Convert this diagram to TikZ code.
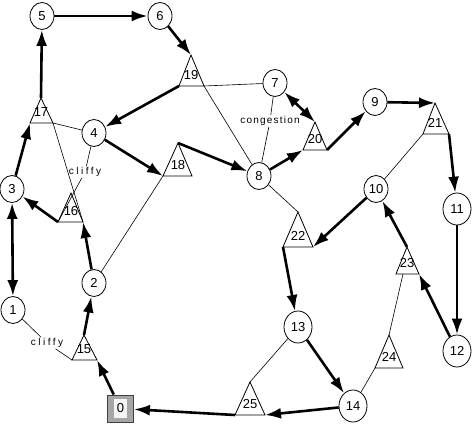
\documentclass[tikz,border=0pt]{standalone}
\usepackage{fontspec}
\setmainfont{Liberation Sans}
\usetikzlibrary{arrows.meta,shapes.geometric}
\newcommand{\mytri}[7]{%
  \coordinate (#1-a) at (#2,#3);
  \coordinate (#1-l) at (#5,#4);
  \coordinate (#1-r) at (#6,#4);
  \draw[tri] (#1-a) -- (#1-l) -- (#1-r) -- cycle;
  \node[trilab] (#1) at (#2,#4-11) {#7};
}
\begin{document}
\begin{tikzpicture}[x=1pt,y=-1pt,
  circ/.style={draw,ellipse,line width=0.8pt,inner sep=0pt,minimum width=24pt,minimum height=27pt,font=\fontsize{13}{15}\selectfont,fill=white},
  bigcirc/.style={circ,minimum width=28pt,minimum height=32pt},
  tri/.style={draw,line width=0.8pt,line join=miter},
  trilab/.style={inner sep=0pt,font=\fontsize{13}{15}\selectfont},
  arr/.style={line width=2.6pt,-{Latex[length=16pt,width=11pt]}},
  darr/.style={line width=2.6pt,{Latex[length=16pt,width=11pt]}-{Latex[length=16pt,width=11pt]}},
  thinline/.style={line width=0.6pt},
  lab/.style={inner sep=1pt,font=\fontsize{10}{12}\selectfont\addfontfeature{LetterSpace=25}},
  lab2/.style={inner sep=1pt,font=\fontsize{10}{12}\selectfont\addfontfeature{LetterSpace=12}}
]
\fill[white] (0,0) rectangle (474,428);
\useasboundingbox (0,0) rectangle (474,428);

% circle nodes
\node[circ] (n5) at (42,16) {5};
\node[circ] (n6) at (160,16) {6};
\node[circ] (n7) at (275,83) {7};
\node[circ] (n4) at (94,133) {4};
\node[circ] (n8) at (259,176) {8};
\node[circ] (n9) at (375,102) {9};
\node[circ] (n10) at (376,189) {10};
\node[bigcirc] (n11) at (457,209) {11};
\node[circ] (n3) at (12,189) {3};
\node[circ] (n2) at (94,283) {2};
\node[circ] (n1) at (13,310) {1};
\node[bigcirc] (n13) at (298,327) {13};
\node[bigcirc] (n14) at (353,406) {14};
\node[bigcirc] (n12) at (457,351) {12};

% box 0
\node[draw=black!75,line width=0.8pt,fill=black!35,minimum width=26pt,minimum height=27pt,inner sep=0pt] (n0) at (120.5,408.5) {};
\node[fill=black!4,minimum width=13pt,minimum height=19pt,inner sep=0pt,font=\fontsize{13}{15}\selectfont] (n0t) at (n0) {0};

% triangles
\mytri{t19}{191}{55}{86}{179}{204}{19}
\mytri{t17}{41}{98}{123}{30}{53}{17}
\mytri{t18}{178}{143}{176}{163}{192}{18}
\mytri{t16}{71}{193}{222}{58}{83}{16}
\mytri{t15}{84}{335}{360}{72}{97}{15}
\mytri{t20}{315}{122}{150}{303}{327}{20}
\mytri{t21}{435}{103}{134}{423}{449}{21}
\mytri{t22}{298}{212}{247}{283}{313}{22}
\mytri{t23}{407}{247}{274}{396}{419}{23}
\mytri{t24}{389}{335}{368}{375}{403}{24}
\mytri{t25}{250}{382}{415}{235}{265}{25}
\coordinate (t23-m) at (403,274);

% labels
\node[lab] (c1) at (47,343) {cliffy};
\node[lab] (c2) at (85,172) {cliffy};
\node[lab2] (cg) at (270,121) {congestion};

% thin lines
\draw[thinline] (t17-r) -- (n4);
\draw[thinline] (t17-r) -- (t16-r);
\draw[thinline] (n4) -- (c2) -- (t16-l);
\draw[thinline] (n1) -- (c1) -- (t15-l);
\draw[thinline] (t19-r) -- (n7);
\draw[thinline] (t19-r) -- (n8);
\draw[thinline] (n7) -- (cg) -- (n8);
\draw[thinline] (n8) -- (t22-a);
\draw[thinline] (t18-l) -- (n2);
\draw[thinline] (t21-l) -- (n10);
\draw[thinline] (t24-a) -- (t23-m);
\draw[thinline] (n14) -- (t24-l);
\draw[thinline] (n13) -- (t25-a);

% thick arrows
\draw[arr] (n5) -- (n6);
\draw[arr] (n6) -- (t19-a);
\draw[arr] (t17-a) -- (n5);
\draw[arr] (t19-l) -- (n4);
\draw[arr] (n4) -- (t18-l);
\draw[arr] (t18-a) -- (n8);
\draw[darr] (n7) -- (t20-a);
\draw[arr] (n8) -- (t20-l);
\draw[arr] (t20-r) -- (n9);
\draw[arr] (n9) -- (t21-a);
\draw[arr] (t21-r) -- (n11);
\draw[arr] (n11) -- (n12);
\draw[arr] (n12) -- (t23-r);
\draw[arr] (t23-a) -- (n10);
\draw[arr] (n10) -- (t22-r);
\draw[arr] (t22-l) -- (n13);
\draw[arr] (n13) -- (n14);
\draw[arr] (n14) -- (t25-r);
\draw[arr] (t25-l) -- (n0);
\draw[arr] (n0) -- (t15-r);
\draw[arr] (t15-a) -- (n2);
\draw[arr] (n2) -- (t16-r);
\draw[arr] (t16-l) -- (n3);
\draw[darr] (n3) -- (n1);
\draw[arr] (n3) -- (t17-l);
\end{tikzpicture}
\end{document}
